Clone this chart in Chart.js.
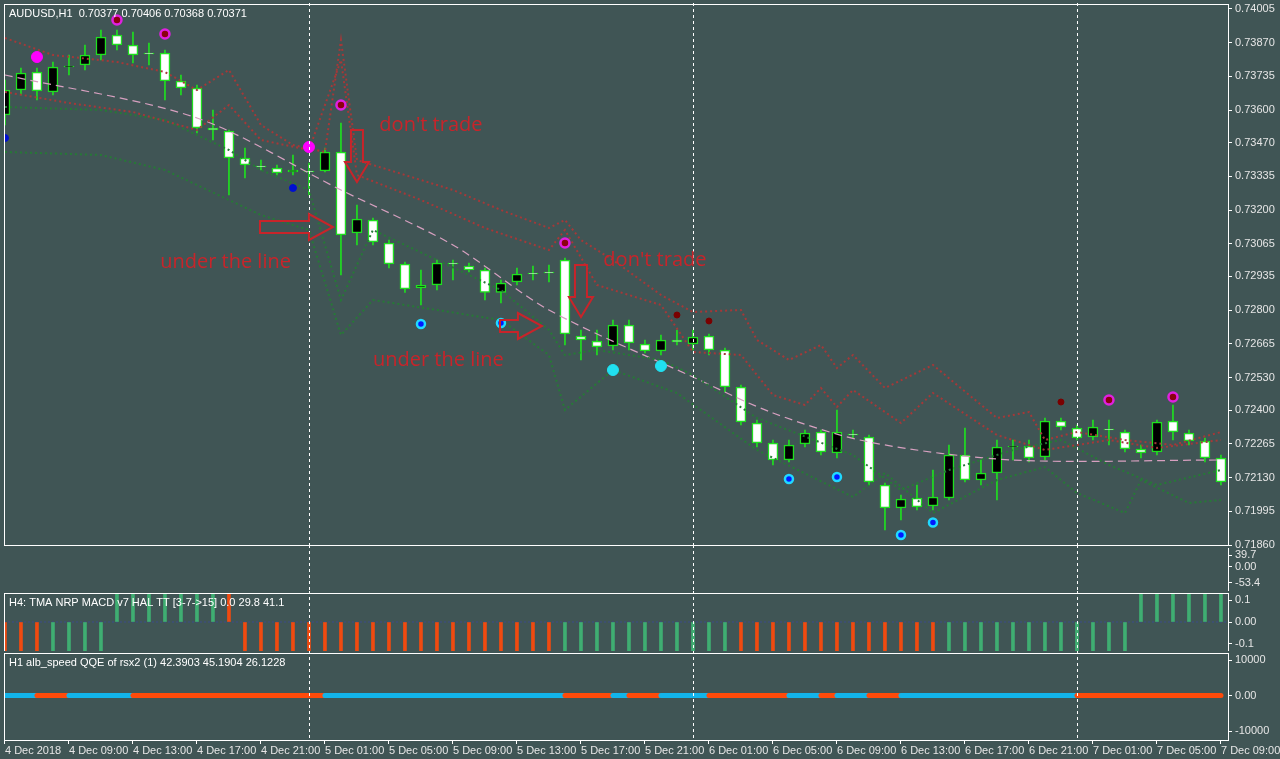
<!DOCTYPE html>
<html>
<head>
<meta charset="utf-8">
<script src="https://cdn.jsdelivr.net/npm/chart.js@4.4.1/dist/chart.umd.min.js"></script>
<style>
  html, body { margin: 0; padding: 0; background: #405555; }
  #wrap { position: relative; width: 1280px; height: 759px; overflow: hidden; background: #405555; }
  #wrap canvas { position: absolute; left: 0; }
</style>
</head>
<body>
<div id="wrap">
  <canvas id="mainChart" style="top:-3px;left:-3px" width="1283" height="555"></canvas>
  <canvas id="miniChart" style="top:545px" width="1280" height="46"></canvas>
  <canvas id="macdChart" style="top:591px" width="1280" height="60"></canvas>
  <canvas id="qqeChart" style="top:651px" width="1280" height="108"></canvas>
</div>
<script>
// H1 candles, 4 Dec 05:00 .. 7 Dec 09:00 (index = hour)
const openP  = [0.7358,0.7368,0.73752,0.73672,0.73772,0.7378,0.7382,0.739,0.7386,0.73828,0.73828,0.73716,0.73688,0.73528,0.73516,0.73408,0.73376,0.73368,0.73352,0.73356,0.73356,0.73432,0.73108,0.7316,0.73068,0.72984,0.72888,0.729,0.72988,0.72976,0.7296,0.7287,0.72912,0.72948,0.72952,0.73,0.72696,0.72676,0.72656,0.7274,0.72664,0.72636,0.7268,0.72664,0.72696,0.7264,0.72492,0.72348,0.72268,0.722,0.72264,0.72312,0.72228,0.72304,0.72292,0.721,0.72008,0.72048,0.72016,0.72048,0.7222,0.7212,0.72148,0.72252,0.72256,0.72212,0.72356,0.72328,0.72292,0.72324,0.72312,0.72244,0.72232,0.72356,0.72308,0.72276,0.72208];
const highP  = [0.7372,0.73768,0.73768,0.73792,0.7382,0.7386,0.7392,0.7392,0.73912,0.73868,0.7384,0.7374,0.737,0.736,0.7352,0.73448,0.734,0.7338,0.7342,0.73388,0.73448,0.73548,0.7322,0.73168,0.7308,0.72992,0.7296,0.73,0.73,0.72988,0.72968,0.7292,0.72968,0.72976,0.7298,0.73008,0.7272,0.7272,0.7276,0.7276,0.7268,0.727,0.7272,0.7272,0.72704,0.72648,0.725,0.7236,0.7228,0.7228,0.7232,0.7232,0.724,0.7232,0.723,0.72108,0.7206,0.721,0.7216,0.7226,0.72328,0.722,0.7228,0.7228,0.7228,0.72368,0.72368,0.7234,0.7236,0.7236,0.7232,0.7226,0.7236,0.7242,0.7232,0.72288,0.7222];
const lowP   = [0.7354,0.7366,0.7364,0.7366,0.7374,0.7376,0.738,0.7384,0.73788,0.7378,0.7364,0.7366,0.73508,0.7348,0.7326,0.73328,0.7336,0.7334,0.7334,0.7326,0.73352,0.7294,0.7306,0.7306,0.72968,0.7287,0.7282,0.7288,0.7292,0.72952,0.7284,0.72828,0.729,0.7292,0.72912,0.7266,0.726,0.7262,0.7264,0.7264,0.72628,0.7262,0.7266,0.7264,0.7262,0.72472,0.7234,0.72252,0.7218,0.72192,0.72252,0.7222,0.72208,0.72288,0.721,0.7192,0.7196,0.72,0.72,0.7204,0.72112,0.721,0.7204,0.722,0.72192,0.722,0.7232,0.7228,0.7228,0.7226,0.72232,0.72208,0.7222,0.7228,0.7226,0.72192,0.721];
const closeP = [0.7368,0.73748,0.73676,0.73772,0.73776,0.7382,0.73892,0.7386,0.7382,0.73824,0.73716,0.73688,0.73528,0.7352,0.73408,0.7338,0.73372,0.73348,0.7336,0.73352,0.73432,0.731,0.73164,0.73072,0.72984,0.72884,0.729,0.72988,0.72984,0.7296,0.7287,0.72908,0.72944,0.72944,0.72948,0.72704,0.7268,0.72652,0.7274,0.72668,0.72636,0.7268,0.72672,0.72692,0.7264,0.72492,0.72352,0.72268,0.722,0.7226,0.72308,0.72232,0.72312,0.723,0.72112,0.72008,0.72044,0.72012,0.72052,0.7222,0.7212,0.72148,0.72252,0.72256,0.72208,0.72356,0.72332,0.72288,0.72332,0.7232,0.72244,0.72228,0.72352,0.72312,0.72276,0.72208,0.72112];

// TMA bands (read at the turning points)
const redOuterIdx   = [0,3,7,10,12,14,16,18,20,21,22,25,28,31,34,35,36,38,41,43,46,47,49,51,52,53,55,58,62,64,65,67,70,73,76];
const redOuterPrice = [0.73888,0.7382,0.73792,0.73752,0.7368,0.7376,0.7354,0.7346,0.73432,0.7388,0.734,0.7334,0.7328,0.732,0.73128,0.7316,0.7308,0.73,0.7286,0.72792,0.728,0.7268,0.726,0.7266,0.72568,0.7262,0.72488,0.7258,0.72368,0.72392,0.7228,0.72312,0.7228,0.7226,0.72312];
const redInnerIdx   = [0,4,8,12,14,16,19,21,22,26,30,34,35,37,41,43,46,48,50,51,52,53,56,58,62,65,69,72,76];
const redInnerPrice = [0.73672,0.73628,0.73592,0.7352,0.7362,0.7348,0.7344,0.738,0.7334,0.7324,0.73128,0.7304,0.7312,0.729,0.7282,0.72632,0.7262,0.7246,0.7242,0.72488,0.72412,0.7248,0.72348,0.72468,0.723,0.7224,0.7228,0.72248,0.7228];
const greenInnerIdx   = [0,6,10,14,16,19,21,23,27,31,34,35,37,41,43,47,53,56,59,63,66,69,72,76];
const greenInnerPrice = [0.73612,0.736,0.7356,0.7344,0.7336,0.7328,0.7284,0.7312,0.73,0.7288,0.7272,0.7262,0.7264,0.726,0.7254,0.72368,0.7222,0.7208,0.7216,0.7224,0.7228,0.7218,0.721,0.7216];
const greenOuterIdx   = [0,6,10,14,16,19,21,23,27,31,34,35,38,42,47,53,55,58,62,65,67,70,71,74,76];
const greenOuterPrice = [0.73432,0.7342,0.7336,0.7324,0.7318,0.7312,0.727,0.7284,0.728,0.7276,0.7262,0.724,0.7256,0.72468,0.7224,0.72052,0.72148,0.71988,0.7212,0.72172,0.72068,0.71988,0.7212,0.72028,0.7204];
const centerIdx   = [0,12,21,28,34,43,48,54,63,76];
const centerPrice = [0.7374,0.73568,0.7328,0.7306,0.728,0.72532,0.72388,0.72272,0.722,0.722];

// signal dots
const magentaDotIdx = [2,19],            magentaDotPrice = [0.73812,0.73452];
const magentaRingIdx = [7,10,21,35,69,73], magentaRingPrice = [0.7396,0.73904,0.7362,0.73068,0.7244,0.72452];
const darkRedIdx = [42,44,66],           darkRedPrice = [0.7278,0.72756,0.72432];
const blueDotIdx = [0,18],               blueDotPrice = [0.73488,0.73288];
const cyanRingIdx = [26,31,49,52,56,58], cyanRingPrice = [0.72744,0.72748,0.72124,0.72132,0.719,0.7195];
const cyanDotIdx = [38,41],              cyanDotPrice = [0.7256,0.72576];

const priceTicks = [0.74005,0.73870,0.73735,0.73600,0.73470,0.73335,0.73200,0.73065,0.72935,0.72800,0.72665,0.72530,0.72400,0.72265,0.72130,0.71995,0.71860];
const timeLabels = ['4 Dec 2018','4 Dec 09:00','4 Dec 13:00','4 Dec 17:00','4 Dec 21:00','5 Dec 01:00','5 Dec 05:00','5 Dec 09:00','5 Dec 13:00','5 Dec 17:00','5 Dec 21:00','6 Dec 01:00','6 Dec 05:00','6 Dec 09:00','6 Dec 13:00','6 Dec 17:00','6 Dec 21:00','7 Dec 01:00','7 Dec 05:00','7 Dec 09:00'];
const daySeparators = [19,43,67];

// MACD histogram: sign and colour per bar
const macdValue = [-1,-1,-1,-1,-1,-1,-1,1,1,1,1,1,1,1,1,-1,-1,-1,-1,-1,-1,-1,-1,-1,-1,-1,-1,-1,-1,-1,-1,-1,-1,-1,-1,-1,-1,-1,-1,-1,-1,-1,-1,-1,-1,-1,-1,-1,-1,-1,-1,-1,-1,-1,-1,-1,-1,-1,-1,-1,-1,-1,-1,-1,-1,-1,-1,-1,-1,-1,-1,1,1,1,1,1,1];
const macdColor = 'OOOGGGGGGGGGGGOOOOOOOOOOOOOOOOOOOOOGGGGGGGGGGGOOOOOOOOOOOOOGGGGGGGGGGGGGGGGGG';
// QQE state line (always 0), colour of each segment
const qqeValue = new Array(77).fill(0);
const qqeColor = 'CCOOCCCCOOOOOOOOOOOOCCCCCCCCCCCCCCCOOOCOOCCCOOOOOCCOCCOOCCCCCCCCCCCOOOOOOOOOC';

// annotations
const notes = [
  { text: "don't trade", idx: 23.4, price: 0.7354 },
  { text: 'under the line', idx: 9.7, price: 0.72992 },
  { text: "don't trade", idx: 37.4, price: 0.7300 },
  { text: 'under the line', idx: 23.0, price: 0.7260 }
];
const arrows = [
  { dir: 'down', idx: 22, from: 0.7352, to: 0.73312 },
  { dir: 'down', idx: 36, from: 0.7298, to: 0.72772 },
  { dir: 'right', price: 0.73132, from: 15.94, to: 20.5 },
  { dir: 'right', price: 0.72736, from: 30.94, to: 33.56 }
];

const AXIS_TXT = '#e6e6e6';
const FONT = 'Liberation Sans';
const CANDLE_GREEN = '#1fe01f';
const X_MIN = -0.06, X_MAX = 76.44;

Chart.defaults.font.family = FONT;
Chart.defaults.font.size = 11;
Chart.defaults.color = AXIS_TXT;
Chart.defaults.animation = false;

const pts = (idx, vals) => idx.map((x, k) => ({ x, y: vals[k] }));
const noPad = s => { s.paddingLeft = 0; s.paddingRight = 0; s.paddingTop = 0; s.paddingBottom = 0; };

function xScale(show) {
  return {
    type: 'linear', min: X_MIN, max: X_MAX, offset: false,
    display: show,
    afterBuildTicks: s => { s.ticks = timeLabels.map((_, k) => ({ value: k * 4 })); },
    afterFit: s => { noPad(s); if (show) s.height = 19; },
    ticks: { align: 'start', padding: 0, color: AXIS_TXT, autoSkip: false, maxRotation: 0, minRotation: 0,
             callback: (v) => timeLabels[v / 4] },
    grid: { drawOnChartArea: false, drawTicks: true, tickLength: 4, color: '#ffffff' },
    border: { display: false }
  };
}

function yScale(min, max, ticks, fmt) {
  return {
    position: 'right', min, max,
    afterBuildTicks: s => { s.ticks = ticks.map(v => ({ value: v })); },
    afterFit: s => { s.width = 52; noPad(s); },
    ticks: { padding: 3, color: AXIS_TXT, autoSkip: false, callback: fmt },
    grid: { drawOnChartArea: false, drawTicks: true, tickLength: 4, color: '#ffffff' },
    border: { display: true, color: '#ffffff' }
  };
}

// frame, day separators and captions
const panelDecor = {
  id: 'panelDecor',
  afterDatasetsDraw(chart, args, opts) {
    const { ctx, chartArea: a, scales: { x } } = chart;
    ctx.save();
    ctx.strokeStyle = '#ffffff';
    ctx.lineWidth = 1;
    ctx.setLineDash([3, 3]);
    daySeparators.forEach(d => {
      const px = Math.round(x.getPixelForValue(d)) + 0.5;
      ctx.beginPath(); ctx.moveTo(px, 0); ctx.lineTo(px, a.bottom); ctx.stroke();
    });
    ctx.setLineDash([]);
    if (opts.frame) {
      ctx.strokeRect(a.left + 0.5, a.top + 0.5, a.right - a.left, a.bottom - a.top);
    }
    if (opts.caption) {
      ctx.fillStyle = '#ffffff';
      ctx.font = '11px ' + FONT;
      ctx.textBaseline = 'top';
      ctx.fillText(opts.caption, a.left + 5, a.top + 4);
    }
    ctx.restore();
  }
};

// red notes and hollow arrows on the price panel
const notesPlugin = {
  id: 'notesPlugin',
  afterDatasetsDraw(chart) {
    const { ctx, scales: { x, y } } = chart;
    ctx.save();
    ctx.fillStyle = '#c8242a';
    ctx.font = '20px "Open Sans"';
    ctx.textBaseline = 'middle';
    notes.forEach(n => ctx.fillText(n.text, x.getPixelForValue(n.idx), y.getPixelForValue(n.price)));
    ctx.strokeStyle = '#c8242a';
    ctx.lineWidth = 2;
    arrows.forEach(ar => {
      let p;
      if (ar.dir === 'down') {
        const cx = x.getPixelForValue(ar.idx), y0 = y.getPixelForValue(ar.from), y1 = y.getPixelForValue(ar.to);
        const hy = y1 - 20;
        p = [[cx - 6, y0], [cx + 6, y0], [cx + 6, hy], [cx + 12, hy], [cx, y1], [cx - 12, hy], [cx - 6, hy]];
      } else {
        const cy = y.getPixelForValue(ar.price), x0 = x.getPixelForValue(ar.from), x1 = x.getPixelForValue(ar.to);
        const hx = x1 - 24;
        p = [[x0, cy - 6], [hx, cy - 6], [hx, cy - 13], [x1, cy], [hx, cy + 13], [hx, cy + 6], [x0, cy + 6]];
      }
      ctx.beginPath();
      p.forEach((q, k) => k ? ctx.lineTo(q[0], q[1]) : ctx.moveTo(q[0], q[1]));
      ctx.closePath();
      ctx.stroke();
    });
    ctx.restore();
  }
};

function band(idx, vals, color) {
  return { type: 'line', data: pts(idx, vals), borderColor: color, borderWidth: 2, borderDash: [2, 3],
           pointRadius: 0, tension: 0, order: 1 };
}
function dots(idx, vals, fill, ring, r, bw) {
  return { type: 'scatter', data: pts(idx, vals), backgroundColor: fill, borderColor: ring,
           pointRadius: r, borderWidth: bw, order: 0 };
}

const candleIdx = openP.map((_, i) => i);
const bodyColors = openP.map((o, i) => closeP[i] < o ? '#ffffff' : '#000000');

new Chart(document.getElementById('mainChart'), {
  type: 'bar',
  data: {
    datasets: [
      { data: candleIdx.map(i => ({ x: i, y: [lowP[i], highP[i]] })), backgroundColor: CANDLE_GREEN,
        barThickness: 1, grouped: false, order: 3 },
      { data: candleIdx.map(i => ({ x: i, y: [Math.min(openP[i], closeP[i]), Math.max(openP[i], closeP[i])] })),
        backgroundColor: bodyColors, borderColor: CANDLE_GREEN, borderWidth: 1.5, borderSkipped: false,
        barThickness: 10, grouped: false, order: 2 },
      band(redOuterIdx, redOuterPrice, '#a53838'),
      band(redInnerIdx, redInnerPrice, '#a53838'),
      band(greenInnerIdx, greenInnerPrice, '#267a36'),
      band(greenOuterIdx, greenOuterPrice, '#267a36'),
      { type: 'line', data: pts(centerIdx, centerPrice), borderColor: '#d7a0c0', borderWidth: 1.2,
        borderDash: [8, 5], pointRadius: 0, tension: 0.3, order: 1 },
      dots(magentaDotIdx, magentaDotPrice, '#ff00ff', '#ff00ff', 5.5, 1),
      dots(magentaRingIdx, magentaRingPrice, '#8b0010', '#e020e0', 4.5, 2.5),
      dots(darkRedIdx, darkRedPrice, '#7a0000', '#7a0000', 3, 1),
      dots(blueDotIdx, blueDotPrice, '#0010d0', '#0010d0', 3.5, 1),
      dots(cyanRingIdx, cyanRingPrice, '#0018ff', '#20d8ff', 4, 2.5),
      dots(cyanDotIdx, cyanDotPrice, '#20e0f0', '#20e0f0', 5.5, 1)
    ]
  },
  options: {
    responsive: false,
    layout: { padding: { left: 4, top: 4, right: 0, bottom: 0 } },
    plugins: { legend: { display: false }, tooltip: { enabled: false },
      panelDecor: { frame: true, caption: 'AUDUSD,H1  0.70377 0.70406 0.70368 0.70371' } },
    scales: {
      x: xScale(false),
      y: yScale(0.7186, 0.74024, priceTicks, v => v.toFixed(5))
    }
  },
  plugins: [panelDecor, notesPlugin]
});

// empty helper window between price and MACD
new Chart(document.getElementById('miniChart'), {
  type: 'line',
  data: { datasets: [{ data: [], pointRadius: 0 }] },
  options: {
    responsive: false,
    layout: { padding: { left: 4, top: 3, right: 0, bottom: 1 } },
    plugins: { legend: { display: false }, tooltip: { enabled: false }, panelDecor: { frame: false } },
    scales: { x: xScale(false), y: yScale(-76.7, 63, [39.7, 0, -53.4], v => v === 0 ? '0.00' : String(v)) }
  },
  plugins: [panelDecor]
});

new Chart(document.getElementById('macdChart'), {
  type: 'bar',
  data: {
    datasets: [
      { data: macdValue.map((v, i) => ({ x: i, y: v * 0.14 })),
        backgroundColor: macdValue.map((_, i) => macdColor[i] === 'G' ? '#3fae72' : '#f04a10'),
        barThickness: 3, order: 1 },
      { type: 'line', data: [{ x: X_MIN, y: 0 }, { x: X_MAX, y: 0 }], borderColor: '#3a4d8a',
        borderWidth: 1, borderDash: [2, 2], pointRadius: 0, order: 2 }
    ]
  },
  options: {
    responsive: false,
    layout: { padding: { left: 4, top: 2, right: 0, bottom: 0 } },
    plugins: { legend: { display: false }, tooltip: { enabled: false },
      panelDecor: { frame: true, caption: 'H4: TMA NRP MACD v7 HAL TT [3-7->15] 0.0 29.8 41.1' } },
    scales: { x: xScale(false), y: yScale(-0.1326, 0.1326, [0.1, 0, -0.1], v => v === 0 ? '0.00' : String(v)) }
  },
  plugins: [panelDecor]
});

new Chart(document.getElementById('qqeChart'), {
  type: 'line',
  data: {
    datasets: [{
      data: qqeValue.map((v, i) => ({ x: i, y: v })), borderWidth: 5, pointRadius: 0, borderCapStyle: 'round',
      borderColor: '#12b4ea',
      segment: { borderColor: c => qqeColor[c.p0DataIndex] === 'O' ? '#ff4a0a' : '#12b4ea' }
    }]
  },
  options: {
    responsive: false,
    layout: { padding: { left: 4, top: 2, right: 0, bottom: 0 } },
    plugins: { legend: { display: false }, tooltip: { enabled: false },
      panelDecor: { frame: true, caption: 'H1 alb_speed QQE of rsx2 (1) 42.3903 45.1904 26.1228' } },
    scales: { x: xScale(true), y: yScale(-12535, 11972, [10000, 0, -10000], v => v === 0 ? '0.00' : String(v)) }
  },
  plugins: [panelDecor]
});
</script>
</body>
</html>
